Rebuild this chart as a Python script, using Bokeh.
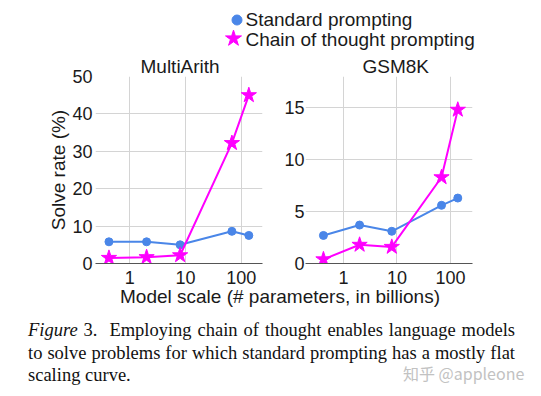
from bokeh.plotting import figure
from bokeh.layouts import column, row
from bokeh.models import (Range1d, FixedTicker, NumeralTickFormatter, Legend,
                          LegendItem, Div, Label)
from bokeh.embed import file_html
from bokeh.resources import INLINE

# ---------------- data ----------------
model_size = [0.422, 2, 8, 68, 137]          # billions of parameters
multiarith_standard = [5.8, 5.8, 5.0, 8.6, 7.5]
multiarith_cot = [1.5, 1.7, 2.2, 32.2, 45.0]
gsm8k_standard = [2.7, 3.7, 3.1, 5.6, 6.3]
gsm8k_cot = [0.4, 1.8, 1.6, 8.3, 14.8]
x_ticks = [1, 10, 100]
multiarith_y_ticks = [0, 10, 20, 30, 40, 50]
gsm8k_y_ticks = [0, 5, 10, 15]
series_names = ["Standard prompting", "Chain of thought prompting"]
panel_titles = ["MultiArith", "GSM8K"]
x_label = "Model scale (# parameters, in billions)"
y_label = "Solve rate (%)"
caption_lines = [
    "<i>Figure</i> 3.&nbsp; Employing chain of thought enables language models",
    "to solve problems for which standard prompting has a mostly flat",
    "scaling curve.",
]
watermark = "知乎 @appleone"

# ---------------- style ----------------
BLUE = "#4a86e8"
MAGENTA = "#ff00ff"
FONT = "Liberation Sans"
TEXT = "#1a1a1a"
GRID = "#d4d4d4"


def make_panel(title, std, cot, xr, yr, yticks, width, left, right, title_offset,
               ylabel=None, ystandoff=3):
    p = figure(width=width, height=241, x_axis_type="log",
               x_range=Range1d(*xr), y_range=Range1d(*yr),
               output_backend="svg", toolbar_location=None,
               min_border_left=left, min_border_right=right,
               min_border_top=24, min_border_bottom=28,
               title=title, margin=(0, 0, 0, 0))
    p.outline_line_color = None
    p.background_fill_color = "white"
    p.border_fill_color = "white"
    p.title.align = "left"
    p.title.offset = title_offset
    p.title.standoff = 0
    p.title.padding = (0, 0, 3, 0)
    p.title.text_font = FONT
    p.title.text_font_size = "19px"
    p.title.text_font_style = "normal"
    p.title.text_color = TEXT

    p.line(model_size, std, color=BLUE, line_width=2)
    p.scatter(model_size, std, marker="circle", size=8, color=BLUE)
    p.line(model_size, cot, color=MAGENTA, line_width=2)
    p.scatter(model_size, cot, marker="star", size=16, color=MAGENTA)

    p.xaxis.ticker = FixedTicker(ticks=x_ticks)
    p.xaxis.formatter = NumeralTickFormatter(format="0")
    p.yaxis.ticker = FixedTicker(ticks=yticks)
    for ax in (p.xaxis, p.yaxis):
        ax.major_tick_line_color = None
        ax.minor_tick_line_color = None
        ax.major_tick_out = 0
        ax.major_tick_in = 0
        ax.minor_tick_out = 0
        ax.minor_tick_in = 0
        ax.major_label_text_font = FONT
        ax.major_label_text_font_size = "18px"
        ax.major_label_text_color = TEXT
    p.xaxis.axis_line_color = "#555555"
    p.xaxis.axis_line_width = 1.2
    p.yaxis.axis_line_color = None
    p.xaxis.major_label_standoff = 7
    p.yaxis.major_label_standoff = ystandoff
    if ylabel:
        p.yaxis.axis_label = ylabel
        p.yaxis.axis_label_text_font = FONT
        p.yaxis.axis_label_text_font_size = "19px"
        p.yaxis.axis_label_text_font_style = "normal"
        p.yaxis.axis_label_text_color = TEXT
        p.yaxis.axis_label_standoff = 0
    p.grid.grid_line_color = GRID
    p.grid.grid_line_width = 1
    return p


fig1 = make_panel(panel_titles[0], multiarith_standard, multiarith_cot,
                  (0.242, 241), (0, 50), multiarith_y_ticks,
                  width=260, left=87, right=6, title_offset=45,
                  ylabel=y_label, ystandoff=3)
fig2 = make_panel(panel_titles[1], gsm8k_standard, gsm8k_cot,
                  (0.195, 258), (0, 18), gsm8k_y_ticks,
                  width=265, left=37, right=61, title_offset=57, ystandoff=1)

# ---------------- legend strip ----------------
# renderers hold the real series but lie outside this strip's view,
# so only their legend glyphs are shown
leg = figure(width=525, height=42, x_range=Range1d(-2, -1), y_range=Range1d(-2, -1),
             output_backend="svg", toolbar_location=None,
             x_axis_location=None, y_axis_location=None, min_border=0,
             margin=(0, 0, 0, 0))
leg.outline_line_color = None
leg.grid.visible = False
r_std = leg.scatter(model_size, multiarith_standard, marker="circle", color=BLUE)
r_cot = leg.scatter(model_size, multiarith_cot, marker="star", color=MAGENTA)


def glyph_legend(rend, loc, glyph):
    return Legend(items=[LegendItem(label=" ", renderers=[rend])],
                  location=loc, glyph_width=glyph, glyph_height=glyph,
                  label_standoff=0, padding=0, margin=0, spacing=0,
                  label_width=1, label_height=1,
                  border_line_color=None, background_fill_alpha=0,
                  label_text_font_size="2px")


leg.add_layout(glyph_legend(r_std, (216, 18), 25))
leg.add_layout(glyph_legend(r_cot, (204, -9), 42))
for name, yb in zip(series_names, (30.8, 11.5)):
    leg.add_layout(Label(x=237, y=yb, x_units="screen", y_units="screen",
                         text=name, text_font=FONT, text_font_size="19px",
                         text_color=TEXT, text_baseline="alphabetic"))

# ---------------- x label + caption ----------------
xlabel_div = Div(
    text=(f'<div style="font-family:\'{FONT}\';font-size:19px;line-height:16px;'
          f'margin-top:-3px;color:{TEXT};white-space:nowrap;padding-left:112px;">'
          f'{x_label}</div>'),
    width=525, height=19, margin=(0, 0, 0, 0))

line_divs = []
for i, ln in enumerate(caption_lines):
    just = "justify" if i < len(caption_lines) - 1 else "left"
    line_divs.append(f'<div style="text-align:{just};text-align-last:{just};">{ln}</div>')
caption_html = (
    '<div style="position:relative;width:525px;height:78px;">'
    '<div style="position:absolute;left:20px;top:9px;width:487px;'
    'font-family:\'Liberation Serif\';font-size:18.5px;line-height:22.5px;color:#111;">'
    + "".join(line_divs) +
    '</div>'
    '<div style="position:absolute;left:395px;top:57px;font-family:\'Noto Sans CJK SC\';'
    f'font-size:16px;line-height:13px;color:#c2c2c2;white-space:nowrap;">{watermark}</div>'
    '</div>')
caption_div = Div(text=caption_html, width=525, height=78, margin=(0, 0, 0, 0))

layout = column(leg, row(fig1, fig2, spacing=0), xlabel_div, caption_div,
                spacing=0, margin=(8, 0, 0, 8))

with open("out.html", "w") as f:
    f.write(file_html(layout, INLINE))
